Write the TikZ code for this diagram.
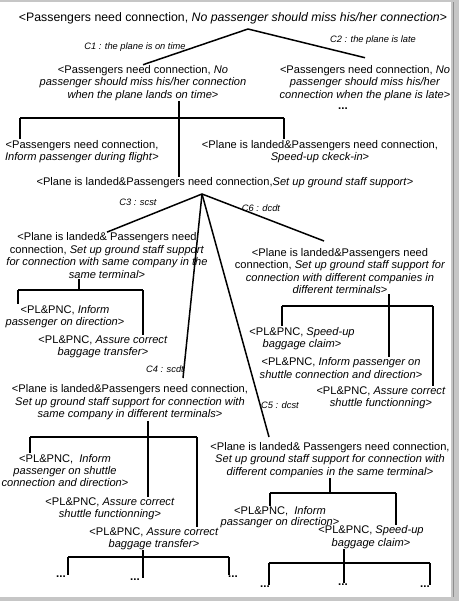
\documentclass[tikz,border=0pt]{standalone}
\usepackage{fontspec}
\setmainfont{Liberation Sans}
\usetikzlibrary{calc}
\definecolor{framegray}{HTML}{C6C6C6}
\definecolor{framedark}{HTML}{8E8E8E}

\tikzset{
  goal/.style={align=center, inner sep=0.5pt, font=\fontsize{11.1}{12.4}\selectfont},
  cond/.style={inner sep=0.5pt, font=\fontsize{9.3}{10}\selectfont\itshape},
  more/.style={inner sep=0.5pt, font=\fontsize{11.5}{11.5}\selectfont\bfseries},
  link/.style={line width=1.5pt}
}

\begin{document}
\begin{tikzpicture}[x=1pt, y=-1pt]
  \useasboundingbox (0,0) rectangle (459,601);
  % frame
  \fill[framegray] (0,0) rectangle (459,2.5);
  \fill[framegray] (451,0) rectangle (459,601);
  \fill[framegray] (0,597) rectangle (459,601);
  \draw[framedark, line width=1.5pt] (453.5,2.5) -- (453.5,597);

  % goals
  \node[goal, font=\fontsize{12.3}{13}\selectfont] (top) at (233,18)
    {<Passengers need connection, \textit{No passenger should miss his/her connection}>};
  \node[goal] (n1) at (143,83)
    {<Passengers need connection, \textit{No}\\ \textit{passenger should miss his/her connection}\\ \textit{when the plane lands on time}>};
  \node[goal] (n2) at (365,83)
    {<Passengers need connection, \textit{No}\\ \textit{passenger should miss his/her}\\ \textit{connection when the plane is late}>};
  \node[more] (d0) at (343,109) {...};
  \node[goal] (nL) at (82,151.5)
    {<Passengers need connection,\\ \textit{Inform passenger during flight}>};
  \node[goal] (nR) at (320,151.5)
    {<Plane is landed\&Passengers need connection,\\ \textit{Speed-up ckeck-in}>};
  \node[goal] (nG) at (225,183)
    {<Plane is landed\&Passengers need connection,\textit{Set up ground staff support}>};
  \node[goal] (n3) at (107,255.5)
    {<Plane is landed\& Passengers need\\ connection, \textit{Set up ground staff support}\\ \textit{for connection with same company in the}\\ \textit{same terminal}>};
  \node[goal] (n3a) at (65,316.5)
    {<PL\&PNC, \textit{Inform}\\ \textit{passenger on direction}>};
  \node[goal] (n3b) at (103,347)
    {<PL\&PNC, \textit{Assure correct}\\ \textit{baggage transfer}>};
  \node[goal] (n6) at (340,271)
    {<Plane is landed\&Passengers need\\ connection, \textit{Set up ground staff support for}\\ \textit{connection with different companies in}\\ \textit{different terminals}>};
  \node[goal] (n6a) at (302,338.5)
    {<PL\&PNC, \textit{Speed-up}\\ \textit{baggage claim}>};
  \node[goal] (n6b) at (341,368)
    {<PL\&PNC, \textit{Inform passenger on}\\ \textit{shuttle connection and direction}>};
  \node[goal] (n6c) at (381,398)
    {<PL\&PNC, \textit{Assure correct}\\ \textit{shuttle functionning}>};
  \node[goal] (n4) at (130,402.5)
    {<Plane is landed\&Passengers need connection,\\ \textit{Set up ground staff support for connection with}\\ \textit{same company in different terminals}>};
  \node[goal] (n4a) at (65,470.5)
    {<PL\&PNC, \ \textit{Inform}\\ \textit{passenger on shuttle}\\ \textit{connection and direction}>};
  \node[goal] (n4b) at (110,509)
    {<PL\&PNC, \textit{Assure correct}\\ \textit{shuttle functionning}>};
  \node[goal] (n4c) at (154,538.5)
    {<PL\&PNC, \textit{Assure correct}\\ \textit{baggage transfer}>};
  \node[goal] (n5) at (330,460)
    {<Plane is landed\& Passengers need connection,\\ \textit{Set up ground staff support for connection with}\\ \textit{different companies in the same terminal}>};
  \node[goal, font=\fontsize{11.1}{10.5}\selectfont] (n5a) at (280,517)
    {<PL\&PNC, \ \textit{Inform}\\ \textit{passanger on direction}>};
  \node[goal] (n5b) at (371,537)
    {<PL\&PNC, \textit{Speed-up}\\ \textit{baggage claim}>};

  % open ends
  \node[more] (d71) at (61,577) {...};
  \node[more] (d72) at (135,580) {...};
  \node[more] (d73) at (233,577) {...};
  \node[more] (d81) at (265,587) {...};
  \node[more] (d82) at (343,585) {...};
  \node[more] (d83) at (425,587) {...};

  % conditions
  \node[cond] (c1) at (135,47) {C1 : the plane is on time};
  \node[cond] (c2) at (373,40) {C2 : the plane is late};
  \node[cond] (c3) at (138,202) {C3 : scst};
  \node[cond] (c4) at (165,369) {C4 : scdt};
  \node[cond] (c5) at (280,405) {C5 : dcst};
  \node[cond] (c6) at (261,208) {C6 : dcdt};

  % branch points
  \coordinate (j0) at (248,29);
  \coordinate (jG) at (202,194);
  \coordinate (t4) at (183,378);
  \coordinate (t5) at (269,437);
  \coordinate (t6) at (324,241);
  \draw[link] (j0) -- (n1.north);
  \draw[link] (j0) -- ([yshift=7pt]n2.north);
  \draw[link] (jG) -- (n3.north);
  \draw[link] (jG) -- (t4);
  \draw[link] (jG) -- (t5);
  \draw[link] (jG) -- (t6);

  % decompositions
  \coordinate (b1) at (179,118);
  \coordinate (b1l) at (20,118);
  \coordinate (b1r) at (284,118);
  \draw[link] (n1.south -| b1) -- (b1);
  \draw[link] (b1l) -- (b1r);
  \draw[link] (b1l) -- (b1l |- nL.north);
  \draw[link] (b1r) -- (b1r |- nR.north);
  \draw[link] (b1) -- (b1 |- nG.north);

  \coordinate (b3) at (79,290);
  \coordinate (b3l) at (18,290);
  \coordinate (b3r) at (143,290);
  \draw[link] (n3.south -| b3) -- (b3);
  \draw[link] (b3l) -- (b3r);
  \draw[link] (b3l) -- (b3l |- n3a.north);
  \draw[link] (b3r) -- (b3r |- n3b.north);

  \coordinate (b6) at (389,306);
  \coordinate (b6l) at (282,306);
  \coordinate (b6r) at (433,306);
  \draw[link] (n6.south -| b6) -- (b6);
  \draw[link] (b6l) -- (b6r);
  \draw[link] (b6l) -- (b6l |- n6a.north);
  \draw[link] (b6) -- (b6 |- n6b.north);
  \draw[link] (b6r) -- (b6r |- n6c.north);

  \coordinate (b4) at (148,437);
  \coordinate (b4l) at (30,437);
  \coordinate (b4r) at (197,437);
  \draw[link] (n4.south -| b4) -- (b4);
  \draw[link] (b4l) -- (b4r);
  \draw[link] (b4l) -- (b4l |- n4a.north);
  \draw[link] (b4) -- (b4 |- n4b.north);
  \draw[link] (b4r) -- (b4r |- n4c.north);

  \coordinate (b5) at (330,493);
  \coordinate (b5l) at (270,493);
  \coordinate (b5r) at (396,493);
  \draw[link] (n5.south -| b5) -- (b5);
  \draw[link] (b5l) -- (b5r);
  \draw[link] (b5l) -- (b5l |- n5a.north);
  \draw[link] (b5r) -- (b5r |- n5b.north);

  \coordinate (b7) at (143,557);
  \coordinate (b7l) at (68,557);
  \coordinate (b7r) at (229,557);
  \draw[link] (n4c.south -| b7) -- (b7);
  \draw[link] (b7l) -- (b7r);
  \draw[link] (b7l) -- (b7l |- d71.north);
  \draw[link] (b7) -- (b7 |- d72.north);
  \draw[link] (b7r) -- (b7r |- d73.north);

  \coordinate (b8) at (344,563);
  \coordinate (b8l) at (269,563);
  \coordinate (b8r) at (430,563);
  \draw[link] (n5b.south -| b8) -- (b8);
  \draw[link] (b8l) -- (b8r);
  \draw[link] (b8l) -- (b8l |- d81.north);
  \draw[link] (b8) -- (b8 |- d82.north);
  \draw[link] (b8r) -- (b8r |- d83.north);
\end{tikzpicture}
\end{document}
